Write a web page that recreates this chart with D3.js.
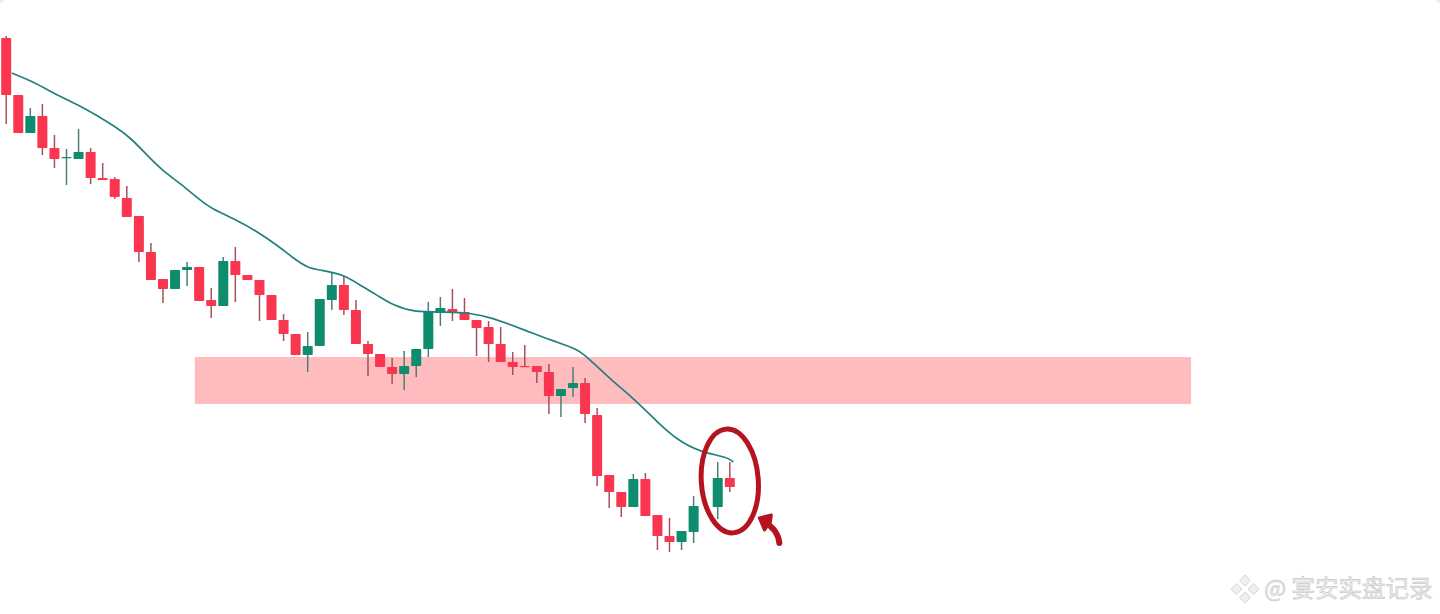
<!DOCTYPE html>
<html><head><meta charset="utf-8">
<script src="https://cdn.jsdelivr.net/npm/d3@7/dist/d3.min.js"></script>
<style>html,body{margin:0;padding:0;background:#fff;overflow:hidden}svg{display:block}</style>
</head><body><svg id="c" width="1440" height="614"></svg>
<script>
const slots = [0,1,2,3,4,5,6,7,8,9,10,11,12,13,14,15,16,17,18,19,20,21,22,23,24,25,26,27,28,29,30,31,32,33,34,35,36,37,38,39,40,41,42,43,44,45,46,47,48,49,50,51,52,53,54,55,56,57,59,60];
const opens  = [576,519,481,498,466,456,455,462,436,435,416,398,362,335,325,344,347,314,308,353,339,334,319,294,280,259,268,314,329,304,270,260,247,240,248,265,301,305,302,294,287,270,252,248,248,242,218,226,231,199,139,122,107,135,99,78,72,82,107,136];
const closes = [519,481,498,466,455,457,462,436,434,417,397,362,334,325,344,347,313,308,353,339,334,319,294,280,259,268,315,329,304,270,260,247,240,248,265,302,306,302,294,286,270,252,247,247,242,218,225,231,200,138,122,107,135,98,78,72,83,108,136,127];
const highs  = [578,519,506,510,479,465,485,466,451,437,428,398,371,335,344,352,347,326,357,367,339,334,319,300,280,282,315,342,338,314,273,260,256,263,265,312,317,325,316,294,293,287,262,269,248,250,225,247,236,206,139,122,140,141,99,96,83,118,152,152];
const lows   = [490,481,481,459,446,429,455,430,434,415,397,352,334,311,325,328,313,296,308,312,334,293,294,273,259,242,268,304,299,270,238,247,230,224,237,257,288,293,294,258,252,252,239,247,231,200,197,217,191,128,106,97,107,98,64,62,64,71,95,122];

const lineSlots  = [0.46,1.95,4.69,6.35,8.84,10.25,11.66,12.99,14.4,16.06,17.05,19.13,20.87,22.45,23.78,25.02,26.02,27.93,29.59,31,32.07,33.65,36.56,38.46,40.12,43.2,45.35,47.34,48.17,50.08,52.16,53.98,55.64,57.55,59.79,60.29];
const lineValues = [541,534,516,507,489,477,459,443,431,414,405,394,382,369,356,346,344,340,327,317,309,302,302,301,297,283,273,265,257,235,214,192,174,162,157,152];

const zoneSlots = [15.64,98.25];
const zoneValues = [210,257];
const watermark = "@ 宴安实盘记录";

const svg = d3.select("#c");
const x = d3.scaleLinear().domain([0,60]).range([6.2,729.8]);
const y = d3.scaleLinear().domain([0,614]).range([614,0]);
const RED="#f9354f", GREEN="#0b8c6e";
const candles = slots.map((s,i)=>({s,o:opens[i],c:closes[i],h:highs[i],l:lows[i]}));

const defs = svg.append("defs");
defs.append("filter").attr("id","soft").append("feGaussianBlur").attr("stdDeviation",0.45);

svg.selectAll("path.corner").data([[0,0,1,1],[1440,0,-1,1]]).join("path").attr("class","corner")
  .attr("d",d=>`M${d[0]},${d[1]}h${7*d[2]}q${-5*d[2]},0 ${-7*d[2]},${5*d[3]}z`).attr("fill","#ececec");

svg.append("rect").attr("x",x(zoneSlots[0])).attr("width",x(zoneSlots[1])-x(zoneSlots[0]))
  .attr("y",y(zoneValues[1])).attr("height",y(zoneValues[0])-y(zoneValues[1]))
  .attr("fill","#ffbcbf");

const g = svg.append("g").attr("filter","url(#soft)");
g.selectAll("line.w").data(candles).join("line").attr("class","w")
  .attr("x1",d=>x(d.s)).attr("x2",d=>x(d.s)).attr("y1",d=>y(d.h)).attr("y2",d=>y(d.l))
  .attr("stroke",d=>d.c<d.o?"#a8505c":"#4d7f78").attr("stroke-width",1.5);
g.selectAll("rect.b").data(candles).join("rect").attr("class","b")
  .attr("x",d=>x(d.s)-5).attr("width",10)
  .attr("y",d=>y(Math.max(d.o,d.c))).attr("height",d=>Math.max(1.2,Math.abs(y(d.o)-y(d.c))))
  .attr("rx",0.8)
  .attr("fill",d=>d.c<d.o?RED:GREEN);

const pts = lineSlots.map((s,i)=>[s,lineValues[i]]);
g.append("path").datum(pts)
  .attr("d",d3.line().x(d=>x(d[0])).y(d=>y(d[1])).curve(d3.curveBasis))
  .attr("fill","none").attr("stroke","#23807f").attr("stroke-width",1.7);

const INK="#b5141f";
const ex=x(60), ey=y(133);
svg.append("ellipse").attr("cx",ex).attr("cy",ey).attr("rx",28.5).attr("ry",52)
  .attr("transform",`rotate(-4 ${ex} ${ey})`)
  .attr("fill","none").attr("stroke",INK).attr("stroke-width",5);
const ax=x(62.7), ay=y(90);
svg.append("path").attr("transform",`translate(${ax},${ay})`)
  .attr("d","M17,19 C16,10 11,3 2,-2")
  .attr("fill","none").attr("stroke",INK).attr("stroke-width",6).attr("stroke-linecap","round");
svg.append("path").attr("transform",`translate(${ax},${ay})`)
  .attr("d","M-3,-6 L9,-9 L8,-2 L2,6 Z")
  .attr("fill",INK).attr("stroke",INK).attr("stroke-width",3).attr("stroke-linejoin","round");

const wm = svg.append("g").attr("transform","translate(1245,589)");
wm.selectAll("path").data([[0,-8.5],[-8.5,0],[8.5,0],[0,8.5]]).join("path")
  .attr("d",d=>`M${d[0]},${d[1]-5.5}L${d[0]+5.5},${d[1]}L${d[0]},${d[1]+5.5}L${d[0]-5.5},${d[1]}Z`)
  .attr("fill","#f0f0f0").attr("stroke","#d4d4d4").attr("stroke-width",1);
wm.append("text").attr("x",19).attr("y",8).text(watermark)
  .attr("font-family","'Noto Sans CJK SC'").attr("font-size",23.5)
  .attr("fill","#ededed").attr("stroke","#bdbdbd").attr("stroke-width",0.5);
</script></body></html>
